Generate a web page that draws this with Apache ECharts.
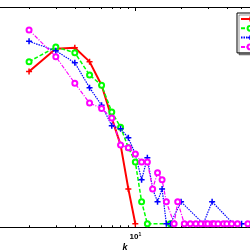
<!DOCTYPE html>
<html>
<head>
<meta charset="utf-8">
<script src="https://cdn.jsdelivr.net/npm/echarts@6/dist/echarts.min.js"></script>
<style>html,body{margin:0;padding:0;background:#fff;}#c{width:250px;height:250px;}</style>
</head>
<body>
<div id="c"></div>
<script>
// degree k and counts for each series
var redK = [2,3,4,5,6,7,8,9,10];
var redV = [122,250,258,166,79,28,12,3,1];
var greenK = [2,3,4,5,6,7,8,9,10,11,12,17];
var greenV = [166,263,220,109,79,34,21,11,7,2,1,1];
var blueK = [2,3,4,5,6,7,8,9,10,11,12,13,14,15,16,17,20,28,32,44,50,70];
var blueV = [315,234,160,73,42,22,20,15,9,4,8,3,2,3,1,1,2,1,2,1,1,1];
var magK = [2,3,4,5,6,7,8,9,10,11,12,13,14,15,16,18,19,21,23,25,27,29,30,32,33,35,38,40,43,47,55,70];
var magV = [450,194,84,45,38,28,12,11,9,7,7,3,5,4,2,1,2,1,1,1,1,1,1,1,1,1,1,1,1,1,1,1];
var names = ['data1','data2','data3','data4'];
var minorTicks = [2,3,4,5,6,7,8,9,20,30,40,50];
var majorTicks = [10];
var xMin = 1.288, xMax = 56.8;
var yMin = 0.893, yMax = 930;

function zip(ks, vs){ return ks.map(function(k,i){ return [k, vs[i]]; }); }
var plus = 'path://M3,0H5V3H8V5H5V8H3V5H0V3H3Z';

var gridRect = {left: 0, right: 0, top: 7, bottom: 22.7, containLabel: false, outerBoundsMode: 'none'};
function xAx(grid, pos, ticks, len, showLine){
  return {
    type: 'log', logBase: 10, min: xMin, max: xMax, gridIndex: grid, position: pos,
    axisLine: {show: showLine, lineStyle: {color: '#000', width: 1}},
    axisTick: {show: true, inside: true, length: len, customValues: ticks, lineStyle: {color: '#000', width: 1}},
    minorTick: {show: false},
    splitLine: {show: false},
    axisLabel: {show: false}
  };
}
function yAx(grid){
  return {type: 'log', logBase: 10, min: yMin, max: yMax, gridIndex: grid, show: false, splitLine: {show: false}};
}
var bottomAxis = xAx(0, 'bottom', minorTicks, 2, true);
bottomAxis.axisLabel = {
  show: true, margin: 5, color: '#000',
  formatter: function(v){ return Math.abs(v - 10) < 1e-6 ? '{b|10}{s|1}' : ''; },
  rich: {
    b: {fontFamily: 'Liberation Sans', fontWeight: 'bold', fontSize: 8, color: '#000'},
    s: {fontFamily: 'Liberation Sans', fontWeight: 'bold', fontSize: 5, color: '#000', padding: [0, 0, 4, 0]}
  }
};
bottomAxis.name = 'k';
bottomAxis.nameLocation = 'middle';
bottomAxis.nameGap = 16;
bottomAxis.nameMoveOverlap = false;
bottomAxis.nameTextStyle = {fontFamily: 'Liberation Sans', fontStyle: 'italic', fontWeight: 'bold', fontSize: 9, color: '#000'};

var chart = echarts.init(document.getElementById('c'), null, {renderer: 'canvas'});
chart.setOption({
  animation: false,
  backgroundColor: '#fff',
  grid: [Object.assign({}, gridRect), Object.assign({}, gridRect)],
  xAxis: [
    bottomAxis,
    xAx(0, 'top', minorTicks, 2, true),
    xAx(1, 'bottom', majorTicks, 4, false),
    xAx(1, 'top', majorTicks, 4, false)
  ],
  yAxis: [yAx(0), yAx(1)],
  legend: {
    orient: 'vertical', left: 237, top: 13, padding: [2, 4, 2, 3],
    itemWidth: 18, itemHeight: 6, itemGap: 1.3,
    backgroundColor: '#fff', borderColor: '#000', borderWidth: 1, borderRadius: 0,
    shadowColor: 'rgba(0,0,0,0.4)', shadowOffsetX: 2, shadowOffsetY: 2, shadowBlur: 0,
    textStyle: {fontSize: 8, lineHeight: 8, color: '#000', fontFamily: 'Liberation Sans'},
    data: names
  },
  series: [
    {name: names[0], type: 'line', xAxisIndex: 0, yAxisIndex: 0, data: zip(redK, redV),
     symbol: plus, symbolSize: 6, itemStyle: {color: '#ff0000'},
     lineStyle: {color: '#ff0000', width: 2}},
    {name: names[1], type: 'line', xAxisIndex: 0, yAxisIndex: 0, data: zip(greenK, greenV),
     symbol: 'emptyCircle', symbolSize: 5, itemStyle: {color: '#00ff00', borderWidth: 1.5},
     lineStyle: {color: '#00ff00', width: 1.5, type: [4, 2]}},
    {name: names[2], type: 'line', xAxisIndex: 0, yAxisIndex: 0, data: zip(blueK, blueV),
     symbol: plus, symbolSize: 6, itemStyle: {color: '#0000ff'},
     lineStyle: {color: '#0000ff', width: 1.2, type: [1.5, 1]}},
    {name: names[3], type: 'line', xAxisIndex: 0, yAxisIndex: 0, data: zip(magK, magV),
     symbol: 'emptyCircle', symbolSize: 5, itemStyle: {color: '#ff00ff', borderWidth: 1.5},
     lineStyle: {color: '#ff00ff', width: 1.2, type: [4, 1.5, 1, 1.5]}}
  ]
});
</script>
</body>
</html>
